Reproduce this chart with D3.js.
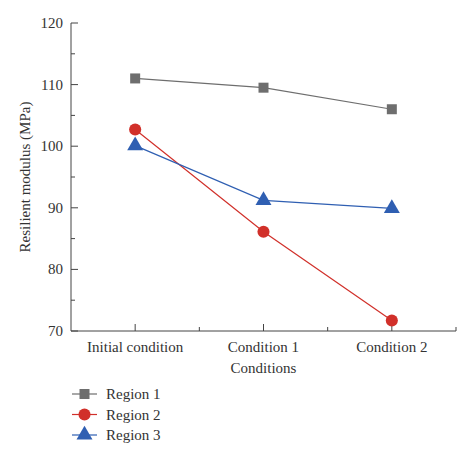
<!DOCTYPE html>
<html><head><meta charset="utf-8">
<script src="https://cdn.jsdelivr.net/npm/d3@7"></script>
<style>body{margin:0;background:#fff}text{font-family:"Liberation Serif","DejaVu Serif",serif;fill:#333}</style>
</head><body><svg id="c" width="474" height="461"></svg>
<script>
var categories = ['Initial condition', 'Condition 1', 'Condition 2'];
var seriesNames = ['Region 1', 'Region 2', 'Region 3'];
var region1 = [111, 109.5, 106];
var region2 = [102.7, 86.1, 71.7];
var region3 = [100.1, 91.2, 89.9];
var yTicks = [70, 80, 90, 100, 110, 120];

var colors = ['#6e6e6e', '#d1302a', '#2f5fb2'];
var shapes = [d3.symbolSquare, d3.symbolCircle, d3.symbolTriangle];
var series = [region1, region2, region3];

var svg = d3.select('#c');
var mLeft = 71, mRight = 456, mTop = 23, mBottom = 331;
var x = d3.scaleBand().domain(categories).range([mLeft, mRight]);
var y = d3.scaleLinear().domain([70, 120]).range([mBottom, mTop]);

var ax = svg.append('g').attr('stroke', '#444').attr('stroke-width', 1);
ax.append('line').attr('x1', mLeft).attr('x2', mLeft).attr('y1', mTop).attr('y2', mBottom);
ax.append('line').attr('x1', mLeft).attr('x2', mRight).attr('y1', mBottom).attr('y2', mBottom);
d3.range(70, 121, 5).forEach(function(v) {
  ax.append('line').attr('x1', mLeft).attr('x2', mLeft + (v % 10 ? 4 : 7))
    .attr('y1', y(v)).attr('y2', y(v));
});
categories.forEach(function(c) {
  var cx = x(c) + x.bandwidth() / 2;
  ax.append('line').attr('x1', cx).attr('x2', cx).attr('y1', mBottom).attr('y2', mBottom - 7);
  ax.append('line').attr('x1', x(c) + x.bandwidth()).attr('x2', x(c) + x.bandwidth())
    .attr('y1', mBottom).attr('y2', mBottom - 4);
});
yTicks.forEach(function(v) {
  svg.append('text').attr('x', mLeft - 8).attr('y', y(v) + 5).attr('text-anchor', 'end')
    .style('font-size', '15px').text(v);
});
categories.forEach(function(c) {
  svg.append('text').attr('x', x(c) + x.bandwidth() / 2).attr('y', mBottom + 21)
    .attr('text-anchor', 'middle').style('font-size', '15px').text(c);
});
svg.append('text').attr('x', x(categories[1]) + x.bandwidth() / 2).attr('y', mBottom + 42)
  .attr('text-anchor', 'middle').style('font-size', '15px').text('Conditions');
svg.append('text').attr('transform', 'translate(30,' + ((mTop + mBottom) / 2) + ') rotate(-90)')
  .attr('text-anchor', 'middle').style('font-size', '15px').text('Resilient modulus (MPa)');

var line = d3.line().x(function(d, i) { return x(categories[i]) + x.bandwidth() / 2; })
  .y(function(d) { return y(d); });
var sizes = [100, 115, 110];
series.forEach(function(s, k) {
  svg.append('path').attr('d', line(s)).attr('fill', 'none').attr('stroke', colors[k]).attr('stroke-width', 1.2);
  s.forEach(function(v, i) {
    svg.append('path').attr('d', d3.symbol().type(shapes[k]).size(sizes[k])())
      .attr('transform', 'translate(' + (x(categories[i]) + x.bandwidth() / 2) + ',' + y(v) + ')')
      .attr('fill', colors[k]);
  });
});

seriesNames.forEach(function(n, k) {
  var ly = 394 + k * 20.5;
  svg.append('line').attr('x1', 72).attr('x2', 97).attr('y1', ly).attr('y2', ly)
    .attr('stroke', colors[k]).attr('stroke-width', 1.2);
  svg.append('path').attr('d', d3.symbol().type(shapes[k]).size(sizes[k])())
    .attr('transform', 'translate(84.5,' + ly + ')').attr('fill', colors[k]);
  svg.append('text').attr('x', 106).attr('y', ly + 5).style('font-size', '15px').text(n);
});
</script></body></html>
